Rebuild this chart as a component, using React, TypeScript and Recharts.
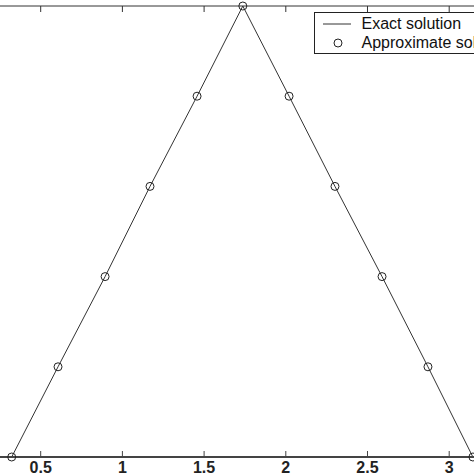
import React from 'react';
import { ComposedChart, Line, XAxis, YAxis, Legend } from 'recharts';

const xValues = [0.3225, 0.606, 0.894, 1.169, 1.457, 1.737, 2.02, 2.301, 2.589, 2.87, 3.145];
const exactValues = [0, 0.2, 0.4, 0.6, 0.8, 1.0, 0.8, 0.6, 0.4, 0.2, 0];
const approxValues = [0, 0.2, 0.4, 0.6, 0.8, 1.0, 0.8, 0.6, 0.4, 0.2, 0];
const xTicks = [0.5, 1, 1.5, 2, 2.5, 3];
const seriesNames = ['Exact solution', 'Approximate solution'];

const data = xValues.map((x, i) => ({ x, exact: exactValues[i], approx: approxValues[i] }));

const FONT = '"Liberation Sans", Arial, Helvetica, sans-serif';

const LegendBox = () => (
  <svg width={200} height={42} style={{ display: 'block' }}>
    <rect x={0.5} y={0.5} width={199} height={41} fill="#fff" stroke="#222" strokeWidth={1} />
    <line x1={9} x2={37} y1={12} y2={12} stroke="#333" strokeWidth={1} />
    <text x={47.5} y={17.3} fontFamily={FONT} fontSize={16} fill="#111">{seriesNames[0]}</text>
    <circle cx={24} cy={31} r={4} fill="#fff" stroke="#222" strokeWidth={1} />
    <text x={47.5} y={36.3} fontFamily={FONT} fontSize={16} fill="#111">{seriesNames[1]}</text>
  </svg>
);

const BottomTick = (props: any) => {
  const { x, y, payload } = props;
  return (
    <g>
      <line x1={x} x2={x} y1={y} y2={y - 6} stroke="#444" strokeWidth={1} />
      <text
        x={x}
        y={y + 5}
        dy="0.71em"
        textAnchor="middle"
        fontFamily={FONT}
        fontSize={16}
        fontWeight="bold"
        fill="#222"
      >
        {String(payload.value)}
      </text>
    </g>
  );
};

const TopTick = (props: any) => {
  const { x, y } = props;
  return <line x1={x} x2={x} y1={y} y2={y + 6} stroke="#333" strokeWidth={1} />;
};

export default function App() {
  return (
    <div style={{ position: 'absolute', left: 0, top: 0, width: 474, height: 474, overflow: 'hidden', background: '#fff' }}>
      <ComposedChart width={474} height={474} data={data} margin={{ top: 0, right: 0, bottom: 0, left: 0 }}>
        <XAxis
          dataKey="x"
          type="number"
          domain={[0.2509, 3.1518]}
          ticks={xTicks}
          interval={0}
          height={17}
          orientation="bottom"
          tickSize={0}
          tickMargin={0}
          axisLine={{ stroke: '#444', strokeWidth: 2 }}
          tickLine={false}
          tick={<BottomTick />}
        />
        <XAxis
          xAxisId="top"
          dataKey="x"
          type="number"
          domain={[0.2509, 3.1518]}
          ticks={xTicks}
          interval={0}
          height={6}
          orientation="top"
          tickSize={0}
          tickMargin={0}
          tick={<TopTick />}
          axisLine={{ stroke: '#333', strokeWidth: 1 }}
          tickLine={false}
        />
        <YAxis hide type="number" domain={[0, 1]} />
        <Line
          dataKey="exact"
          type="linear"
          stroke="#333"
          strokeWidth={1}
          dot={false}
          isAnimationActive={false}
        />
        <Line
          dataKey="approx"
          type="linear"
          stroke="none"
          dot={{ r: 4, fill: 'none', stroke: '#222', strokeWidth: 1 }}
          activeDot={false}
          isAnimationActive={false}
        />
        <Legend
          layout="vertical"
          align="center"
          verticalAlign="middle"
          content={() => <LegendBox />}
          wrapperStyle={{ position: 'absolute', left: 314, top: 12, width: 200, height: 42 }}
        />
      </ComposedChart>
    </div>
  );
}
